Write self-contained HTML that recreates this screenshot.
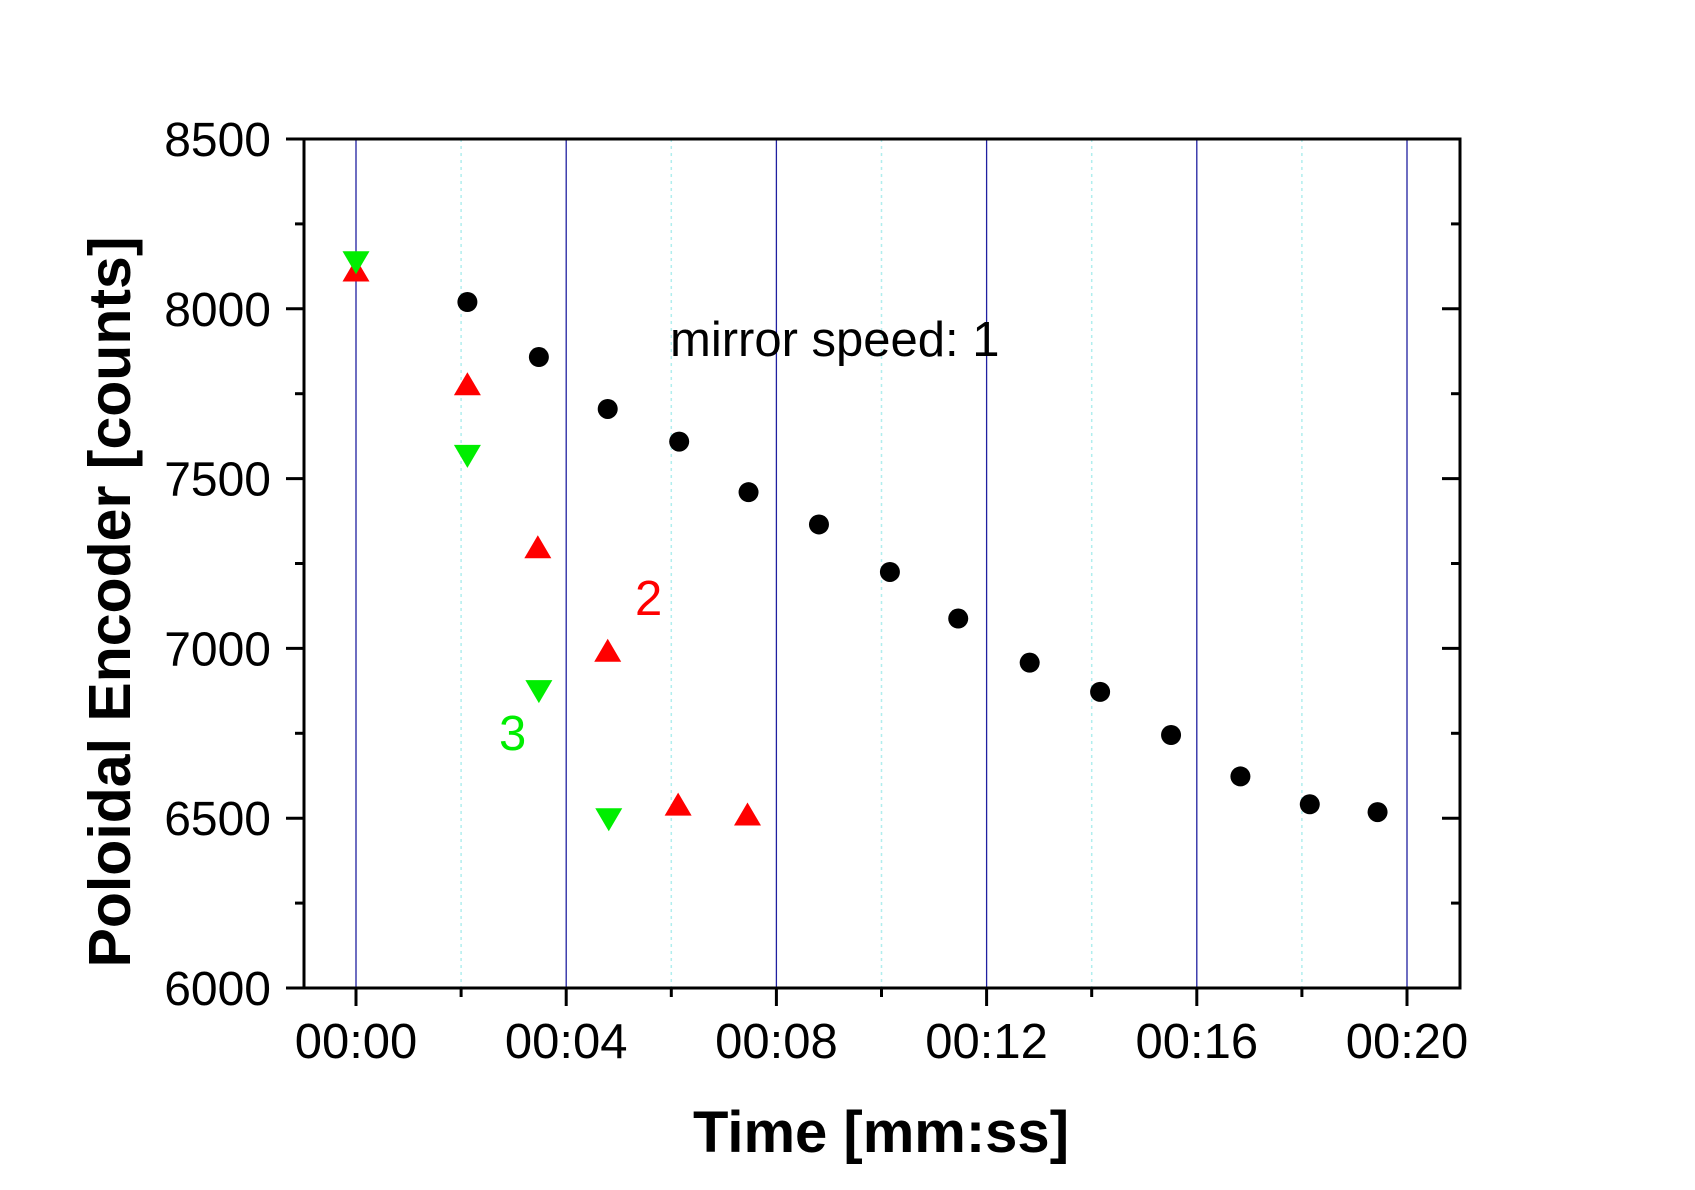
<!DOCTYPE html>
<html><head><meta charset="utf-8"><style>
html,body{margin:0;padding:0;background:#fff;}
svg text{font-family:"Liberation Sans",Arial,sans-serif;}
</style></head><body>
<svg id="chart" width="1695" height="1185" viewBox="0 0 1695 1185" xmlns="http://www.w3.org/2000/svg">
<rect width="1695" height="1185" fill="#fff"/>
<g id="grid"></g>
<g id="axes"></g>
<g id="marks"></g>
<text x="670" y="356" font-size="49" fill="#000">mirror speed: 1</text>
<text x="635" y="615" font-size="49" fill="#ff0000">2</text>
<text x="499" y="750" font-size="49" fill="#00ee00">3</text>
<text x="881" y="1152" font-size="58" font-weight="bold" text-anchor="middle">Time [mm:ss]</text>
<text transform="translate(130,602) rotate(-90)" font-size="59" font-weight="bold" text-anchor="middle">Poloidal Encoder [counts]</text>
</svg>
<script>
const blackT=[2.12,3.48,4.79,6.15,7.47,8.81,10.16,11.46,12.82,14.16,15.51,16.83,18.15,19.44];
const blackV=[8020,7858,7705,7609,7460,7365,7225,7088,6958,6872,6745,6623,6541,6518];
const redT=[0,2.12,3.46,4.79,6.13,7.45];
const redV=[8110,7775,7295,6990,6537,6508];
const greenT=[0,2.12,3.48,4.81];
const greenV=[8140,7570,6877,6500];
const yTicks=[6000,6500,7000,7500,8000,8500];
const xTickSec=[0,4,8,12,16,20];
const xTickLabels=["00:00","00:04","00:08","00:12","00:16","00:20"];

const L=304,R=1460,T=139,B=988;
const X0=356,X20=1407;
function sx(s){return X0+(X20-X0)*s/20;}
function sy(v){return B-(B-T)*(v-6000)/2500;}
const NS='http://www.w3.org/2000/svg';
function mk(tag,attrs,parent){const e=document.createElementNS(NS,tag);for(const k in attrs)e.setAttribute(k,attrs[k]);parent.appendChild(e);return e;}
const grid=document.getElementById('grid'),axes=document.getElementById('axes'),marks=document.getElementById('marks');

for(let s=-2;s<=22;s+=2){
  const x=sx(s); if(x<L||x>R)continue;
  const major=s%4===0;
  const g=mk('line',{x1:x,x2:x,y1:T,y2:B,stroke:major?'#2020a0':'#b0eeee','stroke-width':major?1.3:1.5,'stroke-dasharray':major?'none':'3,4'},grid);
  
  
  const t=mk('line',{x1:x,x2:x,y1:B,y2:B+(major?18:9),stroke:'#000','stroke-width':3},axes);
  
  
}
xTickSec.forEach((s,i)=>{
  const t=mk('text',{x:sx(s),y:1058,'font-size':49,'text-anchor':'middle'},axes);
  t.textContent=xTickLabels[i];
  
  
});
for(let v=6000;v<=8500;v+=250){
  const y=sy(v),major=v%500===0,len=major?18:9;
  const a=mk('line',{x1:L-len,x2:L,y1:y,y2:y,stroke:'#000','stroke-width':3},axes);
  
  
  const b=mk('line',{x1:R-len,x2:R,y1:y,y2:y,stroke:'#000','stroke-width':3},axes);
  
  
}
yTicks.forEach(v=>{
  const t=mk('text',{x:271,y:sy(v)+17,'font-size':48,'text-anchor':'end'},axes);
  t.textContent=v;
  
  
});
const frame=mk('rect',{x:L,y:T,width:R-L,height:B-T,fill:'none',stroke:'#000','stroke-width':3},axes);



redT.forEach((s,i)=>{
  const x=sx(s),y=sy(redV[i]);
  const p=mk('polygon',{points:`${x-13.5},${y+10} ${x+13.5},${y+10} ${x},${y-13}`,fill:'#ff0000'},marks);
  
  
});
greenT.forEach((s,i)=>{
  const x=sx(s),y=sy(greenV[i]);
  const p=mk('polygon',{points:`${x-13.5},${y-10} ${x+13.5},${y-10} ${x},${y+13}`,fill:'#00ee00'},marks);
  
  
});
blackT.forEach((s,i)=>{
  const c=mk('circle',{cx:sx(s),cy:sy(blackV[i]),r:10,fill:'#000'},marks);
  
  
});
</script>
</body></html>
